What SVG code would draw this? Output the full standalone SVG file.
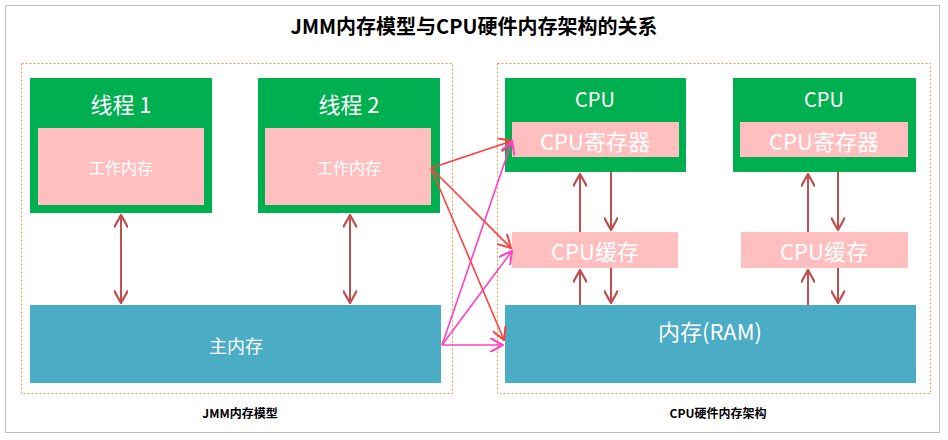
<svg xmlns="http://www.w3.org/2000/svg" width="948" height="440" viewBox="0 0 948 440">
<style>
text{font-family:"Noto Sans CJK SC","Noto Sans",sans-serif;text-anchor:middle;dominant-baseline:central}
.g{fill:#00b050}.p{fill:#ffbfbf}.b{fill:#4bacc6}
.w{fill:#fff}
.t{font-size:22px;fill:#fff}.s{font-size:16px;fill:#fff}
.d{fill:none;stroke:#f79646;stroke-dasharray:2 2;stroke-width:1}
.v{stroke:#c0504d;stroke-width:2;fill:none}
.r{stroke:#ff4040;stroke-width:1.6;fill:none}
.m{stroke:#ff40c0;stroke-width:1.6;fill:none}
</style>
<defs>
<marker id="av" viewBox="0 0 10 10" refX="9" refY="5" markerWidth="7" markerHeight="7" orient="auto-start-reverse"><path d="M0,0L9,5L0,10" fill="none" stroke="#c0504d" stroke-width="1.6"/></marker>
<marker id="ar" viewBox="0 0 10 10" refX="9" refY="5" markerWidth="9" markerHeight="9" orient="auto"><path d="M0,0L9,5L0,10" fill="none" stroke="#ff4040" stroke-width="1.4"/></marker>
<marker id="am" viewBox="0 0 10 10" refX="9" refY="5" markerWidth="9" markerHeight="9" orient="auto"><path d="M0,0L9,5L0,10" fill="none" stroke="#ff40c0" stroke-width="1.4"/></marker>
</defs>
<rect x="0" y="0" width="948" height="440" fill="#fff"/>
<rect x="5.5" y="5.5" width="934" height="427" fill="none" stroke="#bfbfbf"/>
<text x="474" y="25" style="font-size:20px;font-weight:bold;fill:#000">JMM内存模型与CPU硬件内存架构的关系</text>
<rect class="d" x="21.5" y="63.5" width="431" height="330"/>
<rect class="d" x="497.5" y="63.5" width="433" height="330"/>
<text x="240" y="412" style="font-size:12px;font-weight:bold;fill:#000">JMM内存模型</text>
<text x="718" y="412" style="font-size:12px;font-weight:bold;fill:#000">CPU硬件内存架构</text>
<g id="thread1"><rect class="g" x="30" y="78" width="182" height="135"/><text class="t" x="121" y="103">线程 1</text><rect class="p" x="38" y="128" width="166" height="77"/><text class="s" x="121" y="167">工作内存</text></g>
<g id="thread2"><rect class="g" x="258" y="78" width="182" height="135"/><text class="t" x="349" y="103">线程 2</text><rect class="p" x="265" y="128" width="166" height="77"/><text class="s" x="349" y="167">工作内存</text></g>
<g id="mainmem"><rect class="b" x="30" y="305" width="411" height="78"/><text class="s" x="236" y="345" style="font-size:18px">主内存</text></g>
<g id="cpu1"><rect class="g" x="505" y="78" width="181" height="94"/><text class="t" x="595" y="98" style="font-size:20px">CPU</text><rect class="p" x="512" y="122" width="167" height="35"/><text class="t" x="595" y="140">CPU寄存器</text></g>
<g id="cpu2"><rect class="g" x="733" y="78" width="183" height="94"/><text class="t" x="824" y="98" style="font-size:20px">CPU</text><rect class="p" x="740" y="122" width="168" height="35"/><text class="t" x="824" y="140">CPU寄存器</text></g>
<g id="cache1"><rect class="p" x="512" y="232" width="166" height="36"/><text class="t" x="595" y="250">CPU缓存</text></g>
<g id="cache2"><rect class="p" x="741" y="232" width="167" height="36"/><text class="t" x="824" y="250">CPU缓存</text></g>
<g id="ram"><rect class="b" x="505" y="305" width="411" height="78"/><text class="t" x="710" y="330">内存(RAM)</text></g>
<g id="connectors">
<line class="v" x1="121" y1="215" x2="121" y2="303" marker-start="url(#av)" marker-end="url(#av)"/>
<line class="v" x1="350" y1="215" x2="350" y2="303" marker-start="url(#av)" marker-end="url(#av)"/>
<line class="v" x1="580" y1="232" x2="580" y2="174" marker-end="url(#av)"/>
<line class="v" x1="611" y1="172" x2="611" y2="230" marker-end="url(#av)"/>
<line class="v" x1="580" y1="305" x2="580" y2="270" marker-end="url(#av)"/>
<line class="v" x1="611" y1="268" x2="611" y2="303" marker-end="url(#av)"/>
<line class="v" x1="808" y1="232" x2="808" y2="174" marker-end="url(#av)"/>
<line class="v" x1="838" y1="172" x2="838" y2="230" marker-end="url(#av)"/>
<line class="v" x1="808" y1="305" x2="808" y2="270" marker-end="url(#av)"/>
<line class="v" x1="838" y1="268" x2="838" y2="303" marker-end="url(#av)"/>
<line class="r" x1="431" y1="168" x2="512" y2="141" marker-end="url(#ar)"/>
<line class="r" x1="431" y1="168" x2="511" y2="248" marker-end="url(#ar)"/>
<line class="r" x1="431" y1="168" x2="504" y2="340" marker-end="url(#ar)"/>
<line class="m" x1="442" y1="345" x2="512" y2="141" marker-end="url(#am)"/>
<line class="m" x1="442" y1="345" x2="512" y2="251" marker-end="url(#am)"/>
<line class="m" x1="442" y1="345" x2="503" y2="345" marker-end="url(#am)"/>
</g>
</svg>
